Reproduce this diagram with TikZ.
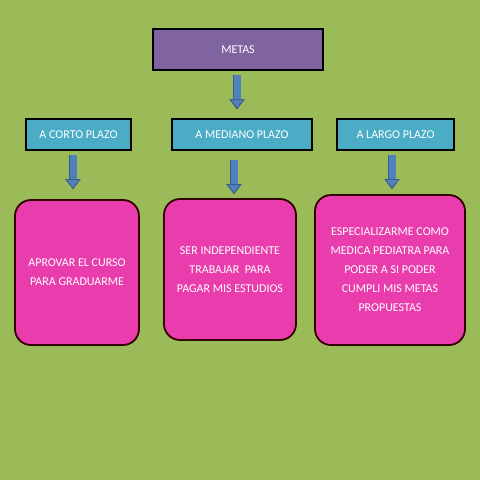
\documentclass[tikz,border=0pt]{standalone}
\usepackage{fontspec}
\setmainfont{Carlito}
\usepackage{tikz}
\usetikzlibrary{positioning}
\usetikzlibrary{arrows.meta}

\definecolor{fondo}{HTML}{9BBB59}
\definecolor{morado}{HTML}{8064A2}
\definecolor{celeste}{HTML}{4BACC6}
\definecolor{rosa}{HTML}{EA3DAD}
\definecolor{flecha}{HTML}{4F81BD}
\definecolor{bordeflecha}{HTML}{385D8A}

\begin{document}
\begin{tikzpicture}[
    x=1pt, y=-1pt,
    every node/.style={text=white, font=\fontsize{12}{19}\selectfont, align=center, inner sep=0pt},
    titulo/.style={draw=black, line width=1.5pt, fill=morado, minimum width=170pt, minimum height=41pt},
    plazo/.style={draw=black, line width=1.5pt, fill=celeste, minimum height=31pt},
    meta/.style={draw=black!80!red, line width=1.8pt, fill=rosa, rounded corners=16pt},
    blockarrow/.style={
        draw=flecha, line width=7pt,
        -{Triangle[width=15pt, length=10pt, fill=flecha, color=bordeflecha, line width=0.8pt]},
        preaction={draw=bordeflecha, line width=8.6pt}
    }
  ]

  % fondo
  \fill[fondo] (0,0) rectangle (480,480);

  \node[titulo] (metas) at (238, 49.5) {METAS};

  \node[plazo, minimum width=105pt] (corto) at (78.5, 134.5) {A CORTO PLAZO};
  \node[plazo, minimum width=140pt] (mediano) at (242, 134.5) {A MEDIANO PLAZO};
  \node[plazo, minimum width=117pt] (largo) at (395.5, 134.5) {A LARGO PLAZO};

  \node[meta, minimum width=124pt, minimum height=145pt] (aprobar) at (77, 272.5)
    {APROVAR EL CURSO\\PARA GRADUARME};
  \node[meta, minimum width=132pt, minimum height=141pt] (independiente) at (230, 269.5)
    {SER INDEPENDIENTE\\TRABAJAR \ PARA\\PAGAR MIS ESTUDIOS};
  \node[meta, minimum width=150pt, minimum height=150pt] (pediatra) at (390, 270)
    {ESPECIALIZARME COMO\\MEDICA PEDIATRA PARA\\PODER A SI PODER\\CUMPLI MIS METAS\\PROPUESTAS};

  \draw[blockarrow] ([xshift=-1pt, yshift=-4pt]metas.south) -- ([xshift=-1pt, yshift=9pt]metas.south |- mediano.north);
  \draw[blockarrow] ([xshift=-5.5pt, yshift=-4pt]corto.south) -- ([xshift=-5.5pt, yshift=10pt]corto.south |- aprobar.north);
  \draw[blockarrow] ([xshift=-8pt, yshift=-9pt]mediano.south) -- ([xshift=-8pt, yshift=4pt]mediano.south |- independiente.north);
  \draw[blockarrow] ([xshift=-3.5pt, yshift=-4pt]largo.south) -- ([xshift=-3.5pt, yshift=5pt]largo.south |- pediatra.north);

\end{tikzpicture}
\end{document}
